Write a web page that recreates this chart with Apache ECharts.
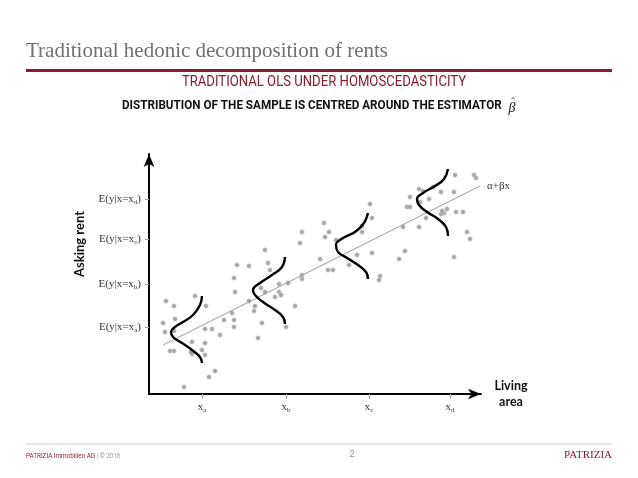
<!DOCTYPE html>
<html>
<head>
<meta charset="utf-8">
<script src="https://cdn.jsdelivr.net/npm/echarts@6/dist/echarts.min.js"></script>
<style>html,body{margin:0;padding:0;background:#fff}#c{width:638px;height:478px}</style>
</head>
<body>
<div id="c"></div>
<script>
// ---- data (abstract units) ----
const xTickValues = [53, 137, 220, 301];
const xTickNames = ['a', 'b', 'c', 'd'];
const yTickValues = [67, 110, 155, 195];
const yTickNames = ['a', 'b', 'c', 'd'];

const samplePoints = [
  [17,93],[25,88],[46,98],[57,88],[14,71],[26,75],[16,62],[25,63],[21,43],[25,43],
  [43,52],[43,40],[42,42],[53,44],[56,51],[56,39],[56,65],[63,65],[71,59],[66,23],
  [60,17],[35,7],[75,74],[83,81],[85,74],[85,67],[85,116],[86,102],[88,129],[100,128],
  [100,93],[105,83],[106,88],[113,71],[109,56],[112,106],[116,102],[116,144],[119,131],[121,124],
  [126,97],[130,110],[130,102],[132,99],[137,67],[139,111],[146,88],[153,119],[153,115],[151,151],
  [153,162],[171,135],[175,171],[176,157],[180,162],[179,124],[184,124],[187,154],
  [200,129],[208,139],[223,141],[213,162],[213,168],[223,176],[221,190],[231,118],[230,114],
  [250,135],[256,143],[254,167],[270,167],[277,176],[258,187],[261,187],[261,197],[271,192],
  [270,205],[274,203],[280,195],[284,207],[292,202],[292,180],[295,181],[298,185],[293,183],
  [307,182],[314,182],[306,219],[305,202],[325,219],[327,216],[318,162],[321,155],[305,137]
];

const fitLine = [[14,49],[331,208]];

const curveA = [[53,98],[51,89],[44,79],[34,72],[26,67],[22,62],[24,57],[33,51],[43,44],[51,37],[53,31]];
const curveB = [[136,137],[133,127],[123,119],[111,111],[104,104],[106,99],[114,92],[126,84],[134,77],[136,70]];
const curveC = [[219,181],[215,171],[206,162],[194,156],[187,149],[189,142],[198,136],[209,129],[217,122],[219,115]];
const curveD = [[299,225],[295,215],[286,208],[274,201],[268,195],[270,189],[278,182],[289,175],[297,167],[299,158]];

// ---- chart ----
const chart = echarts.init(document.getElementById('c'), null, {renderer: 'canvas'});
const serif = "'Liberation Serif', 'DejaVu Serif', serif";
const sans = "Roboto, 'Liberation Sans', sans-serif";
const subRich = {
  n: {fontFamily: serif, fontSize: 11, color: '#333', lineHeight: 14},
  s: {fontFamily: serif, fontSize: 7, color: '#333', lineHeight: 7, verticalAlign: 'bottom'}
};
const red = '#8a1c2f';

function curveSeries(data) {
  return {
    type: 'line', data: data, smooth: 0.45, symbol: 'none', silent: true, z: 4,
    lineStyle: {color: '#000', width: 2.4}
  };
}

chart.setOption({
  animation: false,
  grid: {left: 149, right: 157, top: 154, bottom: 84},
  xAxis: {
    type: 'value', min: 0, max: 332,
    splitLine: {show: false},
    axisLine: {show: true, onZero: false, symbol: ['none', 'arrow'], symbolSize: [8, 13],
      lineStyle: {color: '#000', width: 2}},
    axisTick: {show: true, customValues: xTickValues, length: 5, lineStyle: {color: '#aaa', width: 1}},
    axisLabel: {
      customValues: xTickValues, margin: 6,
      formatter: v => '{n|x}{s|' + xTickNames[xTickValues.indexOf(v)] + '}',
      rich: subRich
    },
    name: 'Living\narea', nameLocation: 'end', nameGap: 30,
    nameTextStyle: {fontFamily: 'Lato, "Open Sans", sans-serif', fontWeight: 'bold', fontSize: 12.5,
      color: '#111', align: 'center', verticalAlign: 'middle', lineHeight: 16, padding: [2, 0, 0, 0]}
  },
  yAxis: {
    type: 'value', min: 0, max: 240,
    splitLine: {show: false},
    axisLine: {show: true, onZero: false, symbol: ['none', 'arrow'], symbolSize: [8, 13],
      lineStyle: {color: '#000', width: 2}},
    axisTick: {show: true, customValues: yTickValues, length: 4, lineStyle: {color: '#aaa', width: 1}},
    axisLabel: {
      customValues: yTickValues, margin: 8,
      formatter: v => '{n|E(y|x=x}{s|' + yTickNames[yTickValues.indexOf(v)] + '}{n|)}',
      rich: subRich
    }
  },
  series: [
    {
      type: 'scatter', data: samplePoints, symbolSize: 4.5, silent: true, z: 2,
      itemStyle: {color: '#8e8e8e', borderColor: '#d2d2d2', borderWidth: 0.8}
    },
    {
      type: 'line', data: fitLine, symbol: 'none', silent: true, z: 3,
      lineStyle: {color: '#9a9a9a', width: 1},
      endLabel: {show: true, formatter: 'α+βx', fontFamily: serif, fontSize: 11, color: '#333', distance: 7}
    },
    curveSeries(curveA), curveSeries(curveB), curveSeries(curveC), curveSeries(curveD)
  ],
  graphic: [
    {type: 'text', left: 26, top: 41, style: {text: 'Traditional hedonic decomposition of rents',
      font: "21px 'Liberation Serif', serif", fill: '#707070'}},
    {type: 'rect', shape: {x: 26, y: 69, width: 586, height: 3}, style: {fill: red}},
    {type: 'text', x: 324, y: 82, scaleX: 0.937, style: {text: 'TRADITIONAL OLS UNDER HOMOSCEDASTICITY',
      font: "14px " + sans, fill: red, align: 'center', verticalAlign: 'middle'}},
    {type: 'text', x: 122, y: 106, scaleX: 0.975, style: {
      text: 'DISTRIBUTION OF THE SAMPLE IS CENTRED AROUND THE ESTIMATOR',
      font: "bold 12px " + sans, fill: '#111', align: 'left', verticalAlign: 'middle'}},
    {type: 'text', x: 512, y: 108, style: {text: 'β', font: "italic 14px " + serif, fill: '#111',
      align: 'center', verticalAlign: 'middle'}},
    {type: 'text', x: 513, y: 102, style: {text: 'ˆ', font: "11px " + serif, fill: '#111',
      align: 'center', verticalAlign: 'middle'}},
    {type: 'text', x: 80, y: 244, rotation: Math.PI / 2, style: {text: 'Asking rent',
      font: "bold 13px Lato, 'Open Sans', sans-serif", fill: '#111', align: 'center', verticalAlign: 'middle'}},
    {type: 'line', shape: {x1: 26, y1: 444, x2: 612, y2: 444}, style: {stroke: '#d0d0d0', lineWidth: 1}},
    {type: 'text', left: 26, top: 453, style: {
      text: '{r|PATRIZIA Immobilien AG}{g| | © 2016}',
      rich: {
        r: {fontFamily: sans, fontSize: 6.3, fill: red},
        g: {fontFamily: sans, fontSize: 6.3, fill: '#999'}
      }}},
    {type: 'text', x: 352, y: 455, style: {text: '2', font: "9px " + sans, fill: '#999',
      align: 'center', verticalAlign: 'middle'}},
    {type: 'text', x: 612, y: 455, style: {text: 'PATRIZIA', font: "11px " + serif,
      fill: red, align: 'right', verticalAlign: 'middle'}}
  ]
});
</script>
</body>
</html>
